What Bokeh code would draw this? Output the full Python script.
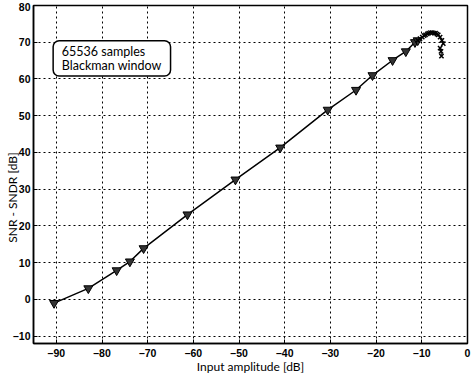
from bokeh.plotting import figure
from bokeh.models import FixedTicker, Range1d
from bokeh.core.properties import value
from bokeh.embed import file_html
from bokeh.resources import INLINE

# main series (triangle markers)
amp_db = [-90.5, -83.0, -76.8, -73.9, -70.9, -61.3, -50.8, -41.0, -30.6, -24.4,
          -20.8, -16.4, -13.5, -11.5, -10.9]
snr_sndr = [-1.0, 3.0, 7.9, 10.3, 13.9, 23.1, 32.6, 41.3, 51.6, 57.0,
            61.0, 65.1, 67.5, 70.0, 70.5]
# near-full-scale cluster (x markers)
amp_hi = [-10.9, -10.4, -9.9, -9.5, -9.2, -8.8, -8.5, -8.1, -7.7, -7.3, -7.0,
          -6.7, -6.4, -6.0, -5.6, -5.3, -6.0, -5.8, -5.7]
snr_hi = [70.5, 71.0, 71.4, 71.8, 72.0, 72.3, 72.5, 72.6, 72.6, 72.5, 72.5,
          72.2, 72.0, 71.4, 70.5, 69.6, 68.4, 67.5, 66.2]

x_ticks = [-90, -80, -70, -60, -50, -40, -30, -20, -10, 0]
x_tick_labels = ["\u201390", "\u201380", "\u201370", "\u201360", "\u201350",
                 "\u201340", "\u201330", "\u201320", "\u201310", "0"]
y_ticks = [-10, 0, 10, 20, 30, 40, 50, 60, 70, 80]
y_tick_labels = ["\u201310", "0", "10", "20", "30", "40", "50", "60", "70", "80"]
note_lines = ["65536 samples", "Blackman window"]

p = figure(width=474, height=376, output_backend="svg", toolbar_location=None,
           x_range=Range1d(-95, 0), y_range=Range1d(-12, 80))
p.min_border_left = 33
p.min_border_right = 7
p.min_border_top = 5
p.min_border_bottom = 27
p.background_fill_color = "white"
p.border_fill_color = "white"
p.outline_line_color = "black"
p.outline_line_width = 1.5

for ax, ticks, labels in ((p.xaxis[0], x_ticks, x_tick_labels),
                          (p.yaxis[0], y_ticks, y_tick_labels)):
    ax.ticker = FixedTicker(ticks=ticks)
    ax.major_label_overrides = {t: l for t, l in zip(ticks, labels)}
    ax.major_tick_in = 4
    ax.major_tick_out = 0
    ax.minor_tick_line_color = None
    ax.axis_line_color = "black"
    ax.axis_line_width = 1.5
    ax.major_tick_line_color = "black"
    ax.major_label_text_font = "Liberation Sans"
    ax.major_label_text_font_style = "bold"
    ax.major_label_text_font_size = "10.5px"
    ax.major_label_text_color = "black"
    ax.axis_label_text_font = "Lato"
    ax.axis_label_text_font_style = "normal"
    ax.axis_label_text_color = "black"

p.xaxis.axis_label = "Input amplitude [dB]"
p.yaxis.axis_label = "SNR - SNDR [dB]" + "\u00a0" * 15
p.xaxis.axis_label_text_font_size = "12px"
p.yaxis.axis_label_text_font_size = "12px"
p.xaxis.major_label_standoff = 3
p.xaxis.axis_label_standoff = -3
p.yaxis.major_label_standoff = 3
p.yaxis.axis_label_standoff = -10

for g in (p.xgrid[0], p.ygrid[0]):
    g.grid_line_color = "black"
    g.grid_line_dash = "2 3"
    g.grid_line_width = 1
    g.grid_line_alpha = 1.0

# annotation box
p.quad(left=-90.7, right=-65.0, bottom=60.8, top=70.4, fill_color="white",
       line_color="black", line_width=1.5, border_radius=6)
p.text(x=[-88.8, -88.8], y=[67.6, 63.6], text=note_lines,
       text_font=value("Lato"), text_font_size="12.5px",
       text_baseline="middle", text_align="left", text_color="black")

p.line(amp_db, snr_sndr, line_color="black", line_width=1.5)
p.line(amp_hi, snr_hi, line_color="black", line_width=1)
p.scatter(amp_db, snr_sndr, marker="inverted_triangle", size=9,
          fill_color="#333333", line_color="black")
p.scatter(amp_hi, snr_hi, marker="x", size=6, line_color="black", line_width=1.5)

open("out.html", "w").write(file_html(p, INLINE))
